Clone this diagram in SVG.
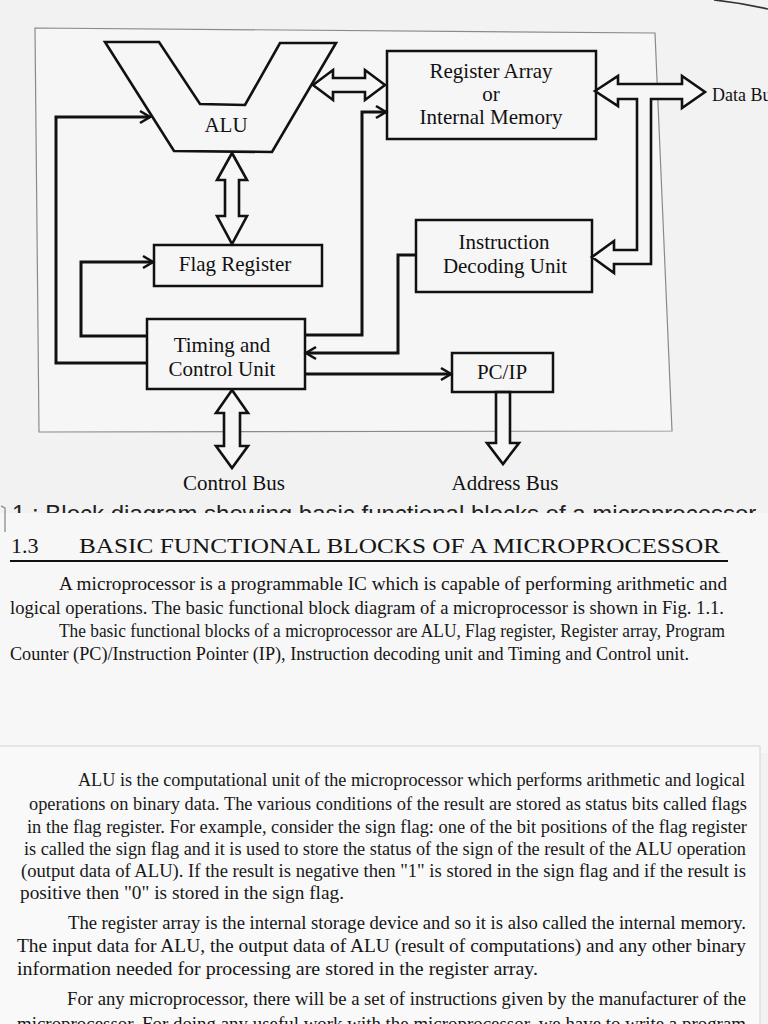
<svg xmlns="http://www.w3.org/2000/svg" width="768" height="1024" viewBox="0 0 768 1024">
  <defs>
    <style>
      .box { fill: none; stroke: #111; stroke-width: 2.5; }
      .hollow { fill: #f6f6f6; stroke: #111; stroke-width: 2.6; stroke-linejoin: miter; }
      .wire { fill: none; stroke: #111; stroke-width: 3; marker-end: url(#arr); }
      .lbl { font-family: "Liberation Serif", "Times New Roman", serif; font-size: 21px; fill: #111; text-anchor: middle; }
      .body { font-family: "Liberation Serif", "Times New Roman", serif; font-size: 19px; fill: #151515; }
      .body2 { font-family: "Liberation Serif", "Times New Roman", serif; font-size: 18px; fill: #181818; }
      .head { font-family: "Liberation Serif", "Times New Roman", serif; font-size: 22px; fill: #151515; }
      .cap { font-family: "Liberation Sans", Arial, sans-serif; font-size: 24px; fill: #222; }
    </style>
    <marker id="arr" markerUnits="userSpaceOnUse" markerWidth="16" markerHeight="16" refX="13" refY="8" orient="auto">
      <path d="M3,2 L13,8 L3,14" fill="none" stroke="#111" stroke-width="2.6"/>
    </marker>
  </defs>

  <!-- page background -->
  <rect x="0" y="0" width="768" height="1024" fill="#f2f2f2"/>
  <path d="M714,0 Q742,3 768,9" fill="none" stroke="#333" stroke-width="1.6"/>

  <!-- diagram frame -->
  <polygon points="35,28 655,33 672,431 39,432" fill="#f6f6f6" stroke="#8a8a8a" stroke-width="1.2"/>

  <!-- connectors -->
  <g id="connectors">
    <!-- ALU <-> Register Array -->
    <polygon class="hollow" points="313,85 333,70 333,78 365,78 365,70 385,85 365,100 365,92 333,92 333,100"/>
    <!-- ALU <-> Flag Register -->
    <polygon class="hollow" points="232,153 247,180 239,180 239,216 247,216 232,244 217,216 225,216 225,180 217,180"/>
    <!-- Timing <-> Control Bus -->
    <polygon class="hollow" points="232,390 248,413 240,413 240,446 248,446 232,468 216,446 224,446 224,413 216,413"/>
    <!-- PC/IP -> Address Bus -->
    <polygon class="hollow" points="496,392 510,392 510,443 519,443 503,464 487,443 496,443"/>
    <!-- Data Bus T arrow -->
    <polygon class="hollow" points="595,91 618,76 618,84 682,84 682,76 705,92 682,108 682,99 651,99 651,264 614,264 614,273 592,257 614,241 614,250 637,250 637,99 618,99 618,106"/>
    <!-- thin control wires -->
    <path class="wire" d="M147,363 L56,363 L56,117 L150,117"/>
    <path class="wire" d="M147,336 L81,336 L81,262 L153,262"/>
    <path class="wire" d="M305,335 L362,335 L362,112 L386,112"/>
    <path class="wire" d="M416,255 L398,255 L398,353 L306,353"/>
    <path class="wire" d="M305,374 L451,374"/>
  </g>

  <g id="alu">
    <polygon points="105,42 159,42 200,104 245,105 280,43 336,43 272,152 174,151" fill="none" stroke="#111" stroke-width="2.6" stroke-linejoin="miter"/>
    <text class="lbl" x="226" y="132">ALU</text>
  </g>

  <g id="register-array">
    <rect class="box" x="387" y="51" width="209" height="88"/>
    <text class="lbl" x="491" y="78">Register Array</text>
    <text class="lbl" x="491" y="101">or</text>
    <text class="lbl" x="491" y="124">Internal Memory</text>
  </g>

  <g id="instruction-decoding-unit">
    <rect class="box" x="416" y="220" width="176" height="72"/>
    <text class="lbl" x="504" y="249">Instruction</text>
    <text class="lbl" x="505" y="273">Decoding Unit</text>
  </g>

  <g id="flag-register">
    <rect class="box" x="154" y="245" width="168" height="41"/>
    <text class="lbl" x="235" y="271">Flag Register</text>
  </g>

  <g id="timing-control-unit">
    <rect class="box" x="147" y="319" width="158" height="70"/>
    <text class="lbl" x="222" y="352">Timing and</text>
    <text class="lbl" x="222" y="376">Control Unit</text>
  </g>

  <g id="pc-ip">
    <rect class="box" x="452" y="353" width="101" height="39"/>
    <text class="lbl" x="502" y="379">PC/IP</text>
  </g>

  <g id="control-bus">
    <text class="lbl" x="234" y="490">Control Bus</text>
  </g>
  <g id="address-bus">
    <text class="lbl" x="505" y="490">Address Bus</text>
  </g>
  <g id="data-bus">
    <text class="lbl" x="712" y="101" style="text-anchor:start;font-size:18px">Data Bus</text>
  </g>

  <!-- caption partly covered by pasted paper -->
  <text class="cap" x="12" y="522">1 : Block diagram showing basic functional blocks of a microprocessor</text>

  <!-- pasted sheet 1 -->
  <rect x="-2" y="513" width="772" height="240" fill="#f7f7f7"/>
  <path d="M1,506 L5,508 L5,532" fill="none" stroke="#9a9a9a" stroke-width="1.5"/>

  <g id="section-heading">
    <text class="head" x="11" y="553">1.3</text>
    <text class="head" x="79" y="553" textLength="641" lengthAdjust="spacingAndGlyphs">BASIC FUNCTIONAL BLOCKS OF A MICROPROCESSOR</text>
    <line x1="10" y1="561" x2="728" y2="561" stroke="#111" stroke-width="2"/>
  </g>

  <g id="paragraph-1">
    <text class="body" x="59" y="590" textLength="668" lengthAdjust="spacingAndGlyphs">A microprocessor is a programmable IC which is capable of performing arithmetic and</text>
    <text class="body" x="10" y="614" textLength="714" lengthAdjust="spacingAndGlyphs">logical operations. The basic functional block diagram of a microprocessor is shown in Fig. 1.1.</text>
    <text class="body2" x="59" y="637" textLength="666" lengthAdjust="spacingAndGlyphs">The basic functional blocks of a microprocessor are ALU, Flag register, Register array, Program</text>
    <text class="body" x="10" y="660" textLength="679" lengthAdjust="spacingAndGlyphs">Counter (PC)/Instruction Pointer (IP), Instruction decoding unit and Timing and Control unit.</text>
  </g>

  <!-- pasted sheet 2 -->
  <rect x="-2" y="746" width="762" height="282" fill="#f9f9f9" stroke="#d4d4d4" stroke-width="1"/>

  <g id="paragraph-2">
    <text class="body2" x="78" y="786" textLength="667" lengthAdjust="spacingAndGlyphs">ALU is the computational unit of the microprocessor which performs arithmetic and logical</text>
    <text class="body2" x="29" y="810" textLength="718" lengthAdjust="spacingAndGlyphs">operations on binary data. The various conditions of the result are stored as status bits called flags</text>
    <text class="body2" x="27" y="833" textLength="720" lengthAdjust="spacingAndGlyphs">in the flag register. For example, consider the sign flag: one of the bit positions of the flag register</text>
    <text class="body2" x="24" y="855" textLength="722" lengthAdjust="spacingAndGlyphs">is called the sign flag and it is used to store the status of the sign of the result of the ALU operation</text>
    <text class="body2" x="21" y="877" textLength="725" lengthAdjust="spacingAndGlyphs">(output data of ALU). If the result is negative then "1" is stored in the sign flag and if the result is</text>
    <text class="body2" x="20" y="899" textLength="324" lengthAdjust="spacingAndGlyphs">positive then "0" is stored in the sign flag.</text>
  </g>

  <g id="paragraph-3">
    <text class="body" x="68" y="929" textLength="678" lengthAdjust="spacingAndGlyphs">The register array is the internal storage device and so it is also called the internal memory.</text>
    <text class="body" x="17" y="952" textLength="729" lengthAdjust="spacingAndGlyphs">The input data for ALU, the output data of ALU (result of computations) and any other binary</text>
    <text class="body" x="17" y="975" textLength="521" lengthAdjust="spacingAndGlyphs">information needed for processing are stored in the register array.</text>
  </g>

  <g id="paragraph-4">
    <text class="body" x="67" y="1005" textLength="679" lengthAdjust="spacingAndGlyphs">For any microprocessor, there will be a set of instructions given by the manufacturer of the</text>
    <text class="body" x="17" y="1030" textLength="729" lengthAdjust="spacingAndGlyphs">microprocessor. For doing any useful work with the microprocessor, we have to write a program</text>
  </g>
</svg>
